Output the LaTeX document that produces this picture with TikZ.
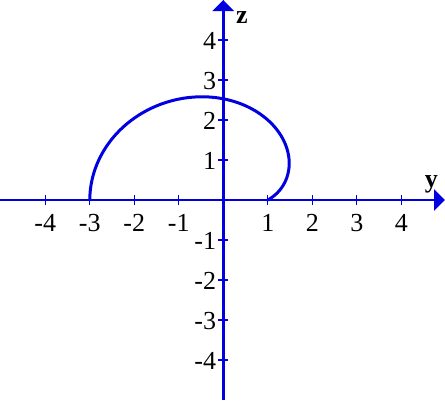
\documentclass[tikz,border=0pt]{standalone}
\usepackage{fontspec}
\setmainfont{Liberation Serif}
\usetikzlibrary{arrows.meta}
\definecolor{axisblue}{RGB}{0,0,225}
\tikzset{
  axisline/.style={axisblue, line width=2.6pt, -{Triangle[length=11pt,width=21pt]}},
  tickmark/.style={axisblue, line width=1.3pt},
  curveline/.style={axisblue, line width=3pt, line cap=round},
  ticklabel/.style={font=\fontsize{26}{26}\selectfont, inner sep=0pt},
  axislabel/.style={font=\fontsize{26}{26}\selectfont\bfseries, inner sep=0pt},
  declare function={rr(\t)=1+5.14*\t-6.08*\t^2+4.74*\t^3-1.8*\t^4;}
}
\begin{document}
\begin{tikzpicture}[x=44.5pt,y=40pt]
\useasboundingbox (-223.3pt,-200pt) rectangle (221.7pt,200pt);
\coordinate (xs) at (-223.3pt,0);
\coordinate (xe) at (221.7pt,0);
\coordinate (zs) at (0,-200pt);
\coordinate (ze) at (0,200pt);
\draw[axisline] (xs) -- (xe);
\draw[axisline] (zs) -- (ze);
\foreach \i in {-4,-3,-2,-1,1,2,3,4} {
  \draw[tickmark] (\i,0) ++(0,-5pt) -- ++(0,10pt);
  \draw[tickmark] (0,\i) ++(-5pt,0) -- ++(10pt,0);
}
\foreach \i in {-4,-3,-2,-1,1,2,3,4} {
  \node[ticklabel] (xl\i) at ([yshift=-23pt]\i,0) {\ifnum\i<0 -\the\numexpr-\i\relax\else\i\fi};
  \node[ticklabel, anchor=east] (zl\i) at ([xshift=-7pt,yshift=-1pt]0,\i) {\ifnum\i<0 -\the\numexpr-\i\relax\else\i\fi};
}
\node[axislabel] (zlab) at (18.5pt,182pt) {z};
\node[axislabel] (ylab) at (208pt,16pt) {y};
\draw[curveline] plot[domain=0:180, samples=120, smooth]
  ({rr(\x/180)*cos(\x)}, {rr(\x/180)*sin(\x)});
\end{tikzpicture}
\end{document}
